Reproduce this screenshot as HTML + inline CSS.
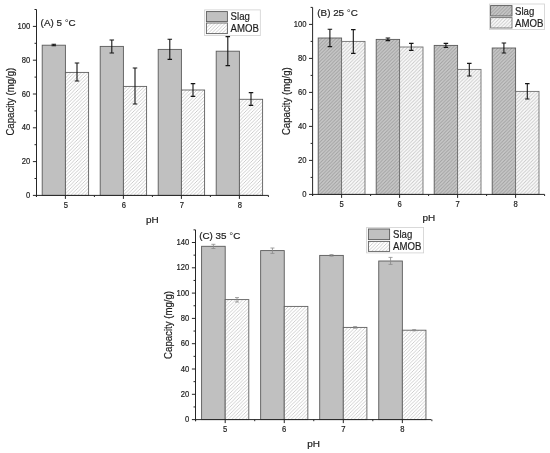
<!DOCTYPE html>
<html><head><meta charset="utf-8"><title>Capacity vs pH</title>
<style>html,body{margin:0;padding:0;background:#fff;width:550px;height:453px;overflow:hidden}svg{display:block}text{fill:#1e1e1e;stroke:#1e1e1e;stroke-width:0.2px}</style>
</head><body>
<svg width="550" height="453" viewBox="0 0 550 453" font-family='"Liberation Sans", Arial, sans-serif'>
<defs>
<pattern id="hA" patternUnits="userSpaceOnUse" width="3.5" height="3.5"><rect width="3.5" height="3.5" fill="#fff"/><path d="M-1,1L1,-1M0,3.5L3.5,0M2.5,4.5L4.5,2.5" stroke="#bdbdbd" stroke-width="0.75"/></pattern>
<pattern id="hC" patternUnits="userSpaceOnUse" width="3.5" height="3.5"><rect width="3.5" height="3.5" fill="#fff"/><path d="M-1,1L1,-1M0,3.5L3.5,0M2.5,4.5L4.5,2.5" stroke="#c0c0c0" stroke-width="0.75"/></pattern>
<pattern id="hBs" patternUnits="userSpaceOnUse" width="3.5" height="3.5"><rect width="3.5" height="3.5" fill="#c9c9c9"/><path d="M-1,1L1,-1M0,3.5L3.5,0M2.5,4.5L4.5,2.5" stroke="#9e9e9e" stroke-width="0.9"/></pattern>
<pattern id="hBa" patternUnits="userSpaceOnUse" width="3.5" height="3.5"><rect width="3.5" height="3.5" fill="#fdfdfd"/><path d="M-1,1L1,-1M0,3.5L3.5,0M2.5,4.5L4.5,2.5" stroke="#c6c6c6" stroke-width="0.9"/></pattern>
</defs>
<rect width="550" height="453" fill="#fff"/>
<rect x="42.20" y="45.20" width="23.20" height="150.20" fill="#c0c0c0" stroke="#5a5a5a" stroke-width="0.9"/>
<rect x="65.40" y="72.40" width="23.20" height="123.00" fill="url(#hA)" stroke="#5f5f5f" stroke-width="0.9"/>
<rect x="100.20" y="46.40" width="23.20" height="149.00" fill="#c0c0c0" stroke="#5a5a5a" stroke-width="0.9"/>
<rect x="123.40" y="86.40" width="23.20" height="109.00" fill="url(#hA)" stroke="#5f5f5f" stroke-width="0.9"/>
<rect x="158.20" y="49.40" width="23.20" height="146.00" fill="#c0c0c0" stroke="#5a5a5a" stroke-width="0.9"/>
<rect x="181.40" y="90.00" width="23.20" height="105.40" fill="url(#hA)" stroke="#5f5f5f" stroke-width="0.9"/>
<rect x="216.20" y="51.20" width="23.20" height="144.20" fill="#c0c0c0" stroke="#5a5a5a" stroke-width="0.9"/>
<rect x="239.40" y="99.30" width="23.20" height="96.10" fill="url(#hA)" stroke="#5f5f5f" stroke-width="0.9"/>
<path d="M53.80,44.30V45.70M51.55,44.30h4.5M51.55,45.70h4.5" stroke="#151515" stroke-width="1.1" fill="none"/>
<path d="M77.00,63.00V81.00M74.75,63.00h4.5M74.75,81.00h4.5" stroke="#151515" stroke-width="1.1" fill="none"/>
<path d="M111.80,40.00V53.00M109.55,40.00h4.5M109.55,53.00h4.5" stroke="#151515" stroke-width="1.1" fill="none"/>
<path d="M135.00,68.00V104.00M132.75,68.00h4.5M132.75,104.00h4.5" stroke="#151515" stroke-width="1.1" fill="none"/>
<path d="M169.80,39.30V59.40M167.55,39.30h4.5M167.55,59.40h4.5" stroke="#151515" stroke-width="1.1" fill="none"/>
<path d="M193.00,83.60V96.40M190.75,83.60h4.5M190.75,96.40h4.5" stroke="#151515" stroke-width="1.1" fill="none"/>
<path d="M227.80,36.60V65.60M225.55,36.60h4.5M225.55,65.60h4.5" stroke="#151515" stroke-width="1.1" fill="none"/>
<path d="M251.00,92.60V105.40M248.75,92.60h4.5M248.75,105.40h4.5" stroke="#151515" stroke-width="1.1" fill="none"/>
<path d="M36.5,9.50V197.00M36.5,195.4H268.5M32.90,195.40H36.5M34.50,178.50H36.5M32.90,161.60H36.5M34.50,144.70H36.5M32.90,127.80H36.5M34.50,110.90H36.5M32.90,94.00H36.5M34.50,77.10H36.5M32.90,60.20H36.5M34.50,43.30H36.5M32.90,26.40H36.5M34.50,9.50H36.5M65.40,195.4v3.5M123.40,195.4v3.5M181.40,195.4v3.5M239.40,195.4v3.5M36.40,195.4v1.6M94.40,195.4v1.6M152.40,195.4v1.6M210.40,195.4v1.6M268.40,195.4v1.6" stroke="#262626" stroke-width="1.0" fill="none"/>
<text transform="translate(30.30 197.90) scale(0.87 1)" font-size="8.8" text-anchor="end">0</text>
<text transform="translate(30.30 164.10) scale(0.87 1)" font-size="8.8" text-anchor="end">20</text>
<text transform="translate(30.30 130.30) scale(0.87 1)" font-size="8.8" text-anchor="end">40</text>
<text transform="translate(30.30 96.50) scale(0.87 1)" font-size="8.8" text-anchor="end">60</text>
<text transform="translate(30.30 62.70) scale(0.87 1)" font-size="8.8" text-anchor="end">80</text>
<text transform="translate(30.30 28.90) scale(0.87 1)" font-size="8.8" text-anchor="end">100</text>
<text transform="translate(65.80 207.60) scale(0.87 1)" font-size="8.8" text-anchor="middle">5</text>
<text transform="translate(123.80 207.60) scale(0.87 1)" font-size="8.8" text-anchor="middle">6</text>
<text transform="translate(181.80 207.60) scale(0.87 1)" font-size="8.8" text-anchor="middle">7</text>
<text transform="translate(239.80 207.60) scale(0.87 1)" font-size="8.8" text-anchor="middle">8</text>
<text transform="translate(152.30 222.50) scale(1.06 1)" font-size="9.4" text-anchor="middle">pH</text>
<text transform="translate(14.00 101.65) rotate(-90) scale(0.945 1)" font-size="10.2" text-anchor="middle">Capacity (mg/g)</text>
<text transform="translate(40.60 25.60) scale(1.025 1)" font-size="9.6">(A) 5 <tspan style="stroke:none">°</tspan>C</text>
<rect x="204.6" y="9.9" width="55.70" height="25.70" fill="#fff" stroke="#d0d0d0" stroke-width="0.8"/>
<rect x="206.4" y="11.6" width="21.00" height="10.00" fill="#c0c0c0" stroke="#5a5a5a" stroke-width="0.9"/>
<text transform="translate(230.60 19.90) scale(0.89 1)" font-size="10.8">Slag</text>
<rect x="206.4" y="23" width="21.00" height="10.60" fill="url(#hA)" stroke="#5f5f5f" stroke-width="0.9"/>
<text transform="translate(230.60 31.80) scale(0.89 1)" font-size="10.8">AMOB</text>
<rect x="318.20" y="38.00" width="23.40" height="156.40" fill="url(#hBs)" stroke="#5a5a5a" stroke-width="0.9"/>
<rect x="341.60" y="41.40" width="23.40" height="153.00" fill="url(#hBa)" stroke="#707070" stroke-width="0.9"/>
<rect x="376.20" y="39.40" width="23.40" height="155.00" fill="url(#hBs)" stroke="#5a5a5a" stroke-width="0.9"/>
<rect x="399.60" y="47.00" width="23.40" height="147.40" fill="url(#hBa)" stroke="#707070" stroke-width="0.9"/>
<rect x="434.20" y="45.40" width="23.40" height="149.00" fill="url(#hBs)" stroke="#5a5a5a" stroke-width="0.9"/>
<rect x="457.60" y="69.40" width="23.40" height="125.00" fill="url(#hBa)" stroke="#707070" stroke-width="0.9"/>
<rect x="492.20" y="48.00" width="23.40" height="146.40" fill="url(#hBs)" stroke="#5a5a5a" stroke-width="0.9"/>
<rect x="515.60" y="91.40" width="23.40" height="103.00" fill="url(#hBa)" stroke="#707070" stroke-width="0.9"/>
<path d="M329.90,29.20V46.60M327.65,29.20h4.5M327.65,46.60h4.5" stroke="#151515" stroke-width="1.1" fill="none"/>
<path d="M353.30,29.60V53.40M351.05,29.60h4.5M351.05,53.40h4.5" stroke="#151515" stroke-width="1.1" fill="none"/>
<path d="M387.90,38.00V40.60M385.65,38.00h4.5M385.65,40.60h4.5" stroke="#151515" stroke-width="1.1" fill="none"/>
<path d="M411.30,43.40V50.40M409.05,43.40h4.5M409.05,50.40h4.5" stroke="#151515" stroke-width="1.1" fill="none"/>
<path d="M445.90,43.40V47.40M443.65,43.40h4.5M443.65,47.40h4.5" stroke="#151515" stroke-width="1.1" fill="none"/>
<path d="M469.30,63.40V76.00M467.05,63.40h4.5M467.05,76.00h4.5" stroke="#151515" stroke-width="1.1" fill="none"/>
<path d="M503.90,43.00V53.00M501.65,43.00h4.5M501.65,53.00h4.5" stroke="#151515" stroke-width="1.1" fill="none"/>
<path d="M527.30,83.60V99.00M525.05,83.60h4.5M525.05,99.00h4.5" stroke="#151515" stroke-width="1.1" fill="none"/>
<path d="M312.6,7.40V196.00M312.6,194.4H544.6M309.00,194.40H312.6M310.60,177.40H312.6M309.00,160.40H312.6M310.60,143.40H312.6M309.00,126.40H312.6M310.60,109.40H312.6M309.00,92.40H312.6M310.60,75.40H312.6M309.00,58.40H312.6M310.60,41.40H312.6M309.00,24.40H312.6M310.60,7.40H312.6M341.60,194.4v3.5M399.60,194.4v3.5M457.60,194.4v3.5M515.60,194.4v3.5M312.60,194.4v1.6M370.60,194.4v1.6M428.60,194.4v1.6M486.60,194.4v1.6M544.60,194.4v1.6" stroke="#262626" stroke-width="1.0" fill="none"/>
<text transform="translate(306.60 196.90) scale(0.87 1)" font-size="8.8" text-anchor="end">0</text>
<text transform="translate(306.60 162.90) scale(0.87 1)" font-size="8.8" text-anchor="end">20</text>
<text transform="translate(306.60 128.90) scale(0.87 1)" font-size="8.8" text-anchor="end">40</text>
<text transform="translate(306.60 94.90) scale(0.87 1)" font-size="8.8" text-anchor="end">60</text>
<text transform="translate(306.60 60.90) scale(0.87 1)" font-size="8.8" text-anchor="end">80</text>
<text transform="translate(306.60 26.90) scale(0.87 1)" font-size="8.8" text-anchor="end">100</text>
<text transform="translate(341.60 206.60) scale(0.87 1)" font-size="8.8" text-anchor="middle">5</text>
<text transform="translate(399.60 206.60) scale(0.87 1)" font-size="8.8" text-anchor="middle">6</text>
<text transform="translate(457.60 206.60) scale(0.87 1)" font-size="8.8" text-anchor="middle">7</text>
<text transform="translate(515.60 206.60) scale(0.87 1)" font-size="8.8" text-anchor="middle">8</text>
<text transform="translate(428.90 221.20) scale(1.06 1)" font-size="9.4" text-anchor="middle">pH</text>
<text transform="translate(290.10 101.15) rotate(-90) scale(0.945 1)" font-size="10.2" text-anchor="middle">Capacity (mg/g)</text>
<text transform="translate(317.30 16.40) scale(1.025 1)" font-size="9.6">(B) 25 <tspan style="stroke:none">°</tspan>C</text>
<rect x="489.6" y="4" width="55.00" height="25.60" fill="#fff" stroke="#d0d0d0" stroke-width="0.8"/>
<rect x="490.6" y="5.6" width="21.40" height="10.40" fill="url(#hBs)" stroke="#5a5a5a" stroke-width="0.9"/>
<text transform="translate(515.00 14.60) scale(0.89 1)" font-size="10.8">Slag</text>
<rect x="490.6" y="17.6" width="21.40" height="10.40" fill="url(#hBa)" stroke="#707070" stroke-width="0.9"/>
<text transform="translate(515.00 26.60) scale(0.89 1)" font-size="10.8">AMOB</text>
<rect x="201.60" y="246.30" width="23.60" height="173.30" fill="#c0c0c0" stroke="#5a5a5a" stroke-width="0.9"/>
<rect x="225.20" y="299.60" width="23.60" height="120.00" fill="url(#hC)" stroke="#5f5f5f" stroke-width="0.9"/>
<rect x="260.65" y="250.60" width="23.60" height="169.00" fill="#c0c0c0" stroke="#5a5a5a" stroke-width="0.9"/>
<rect x="284.25" y="306.40" width="23.60" height="113.20" fill="url(#hC)" stroke="#5f5f5f" stroke-width="0.9"/>
<rect x="319.70" y="255.40" width="23.60" height="164.20" fill="#c0c0c0" stroke="#5a5a5a" stroke-width="0.9"/>
<rect x="343.30" y="327.40" width="23.60" height="92.20" fill="url(#hC)" stroke="#5f5f5f" stroke-width="0.9"/>
<rect x="378.75" y="261.00" width="23.60" height="158.60" fill="#c0c0c0" stroke="#5a5a5a" stroke-width="0.9"/>
<rect x="402.35" y="330.20" width="23.60" height="89.40" fill="url(#hC)" stroke="#5f5f5f" stroke-width="0.9"/>
<path d="M213.40,244.30V248.50M211.40,244.30h4M211.40,248.50h4" stroke="#8a8a8a" stroke-width="0.8" fill="none"/>
<path d="M237.00,297.60V302.00M235.00,297.60h4M235.00,302.00h4" stroke="#8a8a8a" stroke-width="0.8" fill="none"/>
<path d="M272.45,248.00V253.40M270.45,248.00h4M270.45,253.40h4" stroke="#8a8a8a" stroke-width="0.8" fill="none"/>
<path d="M331.50,254.60V256.20M329.50,254.60h4M329.50,256.20h4" stroke="#8a8a8a" stroke-width="0.8" fill="none"/>
<path d="M355.10,326.60V328.20M353.10,326.60h4M353.10,328.20h4" stroke="#8a8a8a" stroke-width="0.8" fill="none"/>
<path d="M390.55,257.40V264.40M388.55,257.40h4M388.55,264.40h4" stroke="#8a8a8a" stroke-width="0.8" fill="none"/>
<path d="M414.15,329.60V330.80M412.15,329.60h4M412.15,330.80h4" stroke="#8a8a8a" stroke-width="0.8" fill="none"/>
<path d="M195.5,229.85V421.20M195.5,419.6H431.4M191.90,419.60H195.5M193.50,406.95H195.5M191.90,394.30H195.5M193.50,381.65H195.5M191.90,369.00H195.5M193.50,356.35H195.5M191.90,343.70H195.5M193.50,331.05H195.5M191.90,318.40H195.5M193.50,305.75H195.5M191.90,293.10H195.5M193.50,280.45H195.5M191.90,267.80H195.5M193.50,255.15H195.5M191.90,242.50H195.5M193.50,229.85H195.5M225.20,419.6v3.5M284.25,419.6v3.5M343.30,419.6v3.5M402.35,419.6v3.5M195.67,419.6v1.6M254.72,419.6v1.6M313.77,419.6v1.6M372.82,419.6v1.6M431.88,419.6v1.6" stroke="#262626" stroke-width="1.0" fill="none"/>
<text transform="translate(189.20 422.10) scale(0.87 1)" font-size="8.8" text-anchor="end">0</text>
<text transform="translate(189.20 396.80) scale(0.87 1)" font-size="8.8" text-anchor="end">20</text>
<text transform="translate(189.20 371.50) scale(0.87 1)" font-size="8.8" text-anchor="end">40</text>
<text transform="translate(189.20 346.20) scale(0.87 1)" font-size="8.8" text-anchor="end">60</text>
<text transform="translate(189.20 320.90) scale(0.87 1)" font-size="8.8" text-anchor="end">80</text>
<text transform="translate(189.20 295.60) scale(0.87 1)" font-size="8.8" text-anchor="end">100</text>
<text transform="translate(189.20 270.30) scale(0.87 1)" font-size="8.8" text-anchor="end">120</text>
<text transform="translate(189.20 245.00) scale(0.87 1)" font-size="8.8" text-anchor="end">140</text>
<text transform="translate(225.20 432.00) scale(0.87 1)" font-size="8.8" text-anchor="middle">5</text>
<text transform="translate(284.25 432.00) scale(0.87 1)" font-size="8.8" text-anchor="middle">6</text>
<text transform="translate(343.30 432.00) scale(0.87 1)" font-size="8.8" text-anchor="middle">7</text>
<text transform="translate(402.35 432.00) scale(0.87 1)" font-size="8.8" text-anchor="middle">8</text>
<text transform="translate(313.60 446.60) scale(1.06 1)" font-size="9.4" text-anchor="middle">pH</text>
<text transform="translate(172.00 324.95) rotate(-90) scale(0.945 1)" font-size="10.2" text-anchor="middle">Capacity (mg/g)</text>
<text transform="translate(199.20 239.00) scale(1.025 1)" font-size="9.6">(C) 35 <tspan style="stroke:none">°</tspan>C</text>
<rect x="366.6" y="227.4" width="57.00" height="25.50" fill="#fff" stroke="#d0d0d0" stroke-width="0.8"/>
<rect x="368.4" y="229" width="21.20" height="10.60" fill="#c0c0c0" stroke="#5a5a5a" stroke-width="0.9"/>
<text transform="translate(393.00 238.30) scale(0.89 1)" font-size="10.8">Slag</text>
<rect x="368.4" y="241.4" width="21.20" height="10.00" fill="url(#hC)" stroke="#5f5f5f" stroke-width="0.9"/>
<text transform="translate(393.00 249.80) scale(0.89 1)" font-size="10.8">AMOB</text>
</svg>
</body></html>
